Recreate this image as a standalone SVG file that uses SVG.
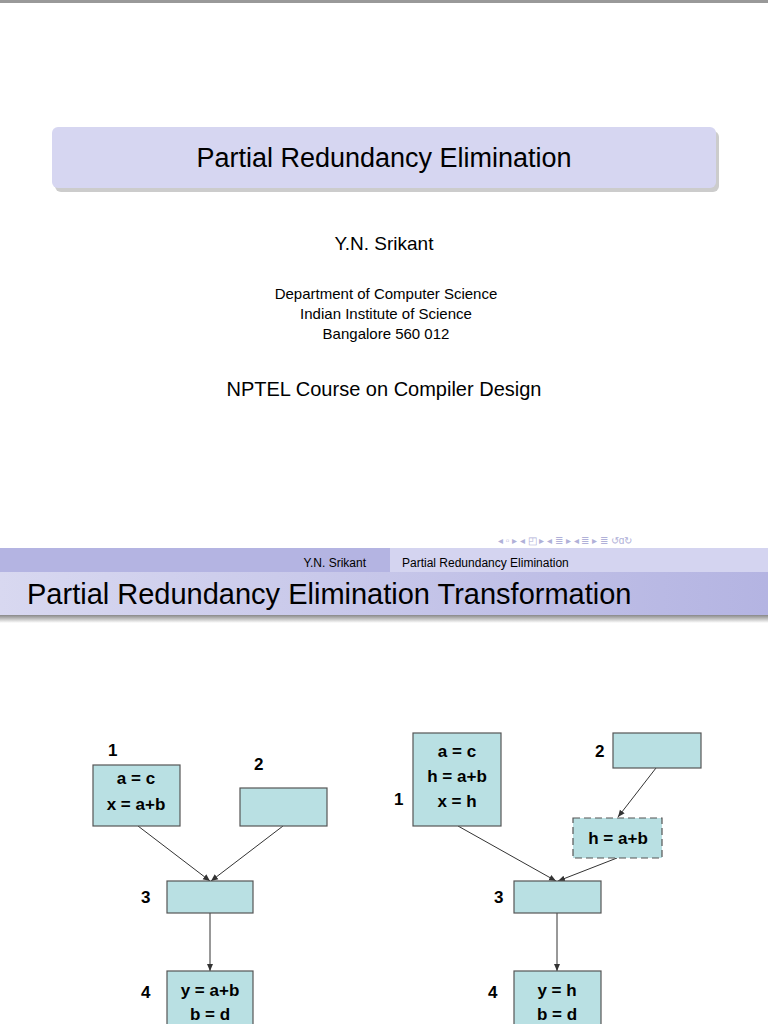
<svg xmlns="http://www.w3.org/2000/svg" width="768" height="1024" viewBox="0 0 768 1024">
<style>
text{font-family:"Liberation Sans",Arial,sans-serif;fill:#000}
.n{fill:#b9e0e3;stroke:#555;stroke-width:1.2}
.l{font-weight:bold;font-size:17px}
.c{stroke:#333;stroke-width:1;fill:none;marker-end:url(#a)}
.nav{fill:#b0b0d8;font-size:10px}
</style>
<defs>
<marker id="a" markerWidth="8" markerHeight="8" refX="7" refY="4" orient="auto" markerUnits="userSpaceOnUse"><path d="M0,1 L7,4 L0,7 z" fill="#333"/></marker>
<linearGradient id="tg" x1="0" x2="1"><stop offset="0" stop-color="#d8d8f0"/><stop offset="1" stop-color="#b4b4e2"/></linearGradient>
<linearGradient id="sh" x1="0" x2="0" y1="0" y2="1"><stop offset="0" stop-color="#888"/><stop offset="1" stop-color="#fff"/></linearGradient>
</defs>
<rect width="768" height="1024" fill="#fff"/>
<rect width="768" height="3" fill="#999"/>
<rect x="55" y="131" width="664" height="61" rx="6" fill="#ccc"/>
<rect x="52" y="127" width="664" height="61" rx="6" fill="#d6d6f1"/>
<text x="384" y="167" text-anchor="middle" font-size="27">Partial Redundancy Elimination</text>
<text x="384" y="250" text-anchor="middle" font-size="19">Y.N. Srikant</text>
<text x="386" y="299" text-anchor="middle" font-size="15">Department of Computer Science</text>
<text x="386" y="319" text-anchor="middle" font-size="15">Indian Institute of Science</text>
<text x="386" y="339" text-anchor="middle" font-size="15">Bangalore 560 012</text>
<text x="384" y="396" text-anchor="middle" font-size="20">NPTEL Course on Compiler Design</text>
<text x="498" y="544" class="nav">◂ ▫ ▸ ◂ ◰ ▸ ◂ ≣ ▸ ◂ ≣ ▸   ≣   ↺ɑ↻</text>
<rect x="0" y="548" width="390" height="24" fill="#b4b4e2"/>
<rect x="390" y="548" width="378" height="24" fill="#d4d4f0"/>
<text x="366" y="567" text-anchor="end" font-size="12">Y.N. Srikant</text>
<text x="402" y="567" font-size="12">Partial Redundancy Elimination</text>
<rect x="0" y="572" width="768" height="43" fill="url(#tg)"/>
<rect x="0" y="615" width="768" height="8" fill="url(#sh)"/>
<text x="27" y="604" font-size="29">Partial Redundancy Elimination Transformation</text>
<g id="connectors">
<line class="c" x1="138" y1="826" x2="210" y2="881"/>
<line class="c" x1="283" y1="826" x2="211" y2="881"/>
<line class="c" x1="210" y1="913" x2="210" y2="971"/>
<line class="c" x1="458" y1="826" x2="556" y2="881"/>
<line class="c" x1="656" y1="768" x2="618" y2="817"/>
<line class="c" x1="617" y1="858" x2="558" y2="881"/>
<line class="c" x1="557" y1="913" x2="557" y2="971"/>
</g>
<g id="L1"><rect class="n" x="93" y="765" width="87" height="61"/><text class="l" x="108" y="756">1</text><text class="l" x="136" y="784" text-anchor="middle">a = c</text><text class="l" x="136" y="810" text-anchor="middle">x = a+b</text></g>
<g id="L2"><rect class="n" x="240" y="788" width="87" height="38"/><text class="l" x="254" y="770">2</text></g>
<g id="L3"><rect class="n" x="167" y="881" width="86" height="32"/><text class="l" x="141" y="903">3</text></g>
<g id="L4"><rect class="n" x="167" y="971" width="86" height="60"/><text class="l" x="141" y="998">4</text><text class="l" x="210" y="996" text-anchor="middle">y = a+b</text><text class="l" x="210" y="1020" text-anchor="middle">b = d</text></g>
<g id="R1"><rect class="n" x="413" y="733" width="88" height="93"/><text class="l" x="394" y="805">1</text><text class="l" x="457" y="757" text-anchor="middle">a = c</text><text class="l" x="457" y="782" text-anchor="middle">h = a+b</text><text class="l" x="457" y="807" text-anchor="middle">x = h</text></g>
<g id="R2"><rect class="n" x="613" y="733" width="88" height="35"/><text class="l" x="595" y="757">2</text></g>
<g id="RH"><rect class="n" x="573" y="818" width="89" height="40" stroke="#222" stroke-width="2" stroke-dasharray="7,4"/><text class="l" x="618" y="844" text-anchor="middle">h = a+b</text></g>
<g id="R3"><rect class="n" x="514" y="881" width="87" height="32"/><text class="l" x="494" y="903">3</text></g>
<g id="R4"><rect class="n" x="514" y="971" width="87" height="60"/><text class="l" x="488" y="998">4</text><text class="l" x="557" y="996" text-anchor="middle">y = h</text><text class="l" x="557" y="1020" text-anchor="middle">b = d</text></g>
</svg>
